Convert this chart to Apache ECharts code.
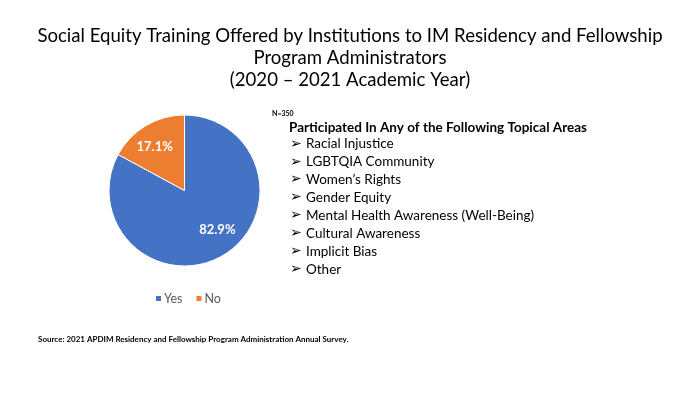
<!DOCTYPE html>
<html>
<head>
<meta charset="utf-8">
<script src="https://cdn.jsdelivr.net/npm/echarts@6/dist/echarts.min.js"></script>
<style>
  html, body { margin: 0; padding: 0; background: #fff; }
  #chart { width: 700px; height: 399px; }
</style>
</head>
<body>
<div id="chart"></div>
<script>
const categories = ['Yes', 'No']
const values = [82.9, 17.1]
const colors = ['#4472C4', '#ED7D31']
const topics = [
  'Racial Injustice',
  'LGBTQIA Community',
  'Women\u2019s Rights',
  'Gender Equity',
  'Mental Health Awareness (Well-Being)',
  'Cultural Awareness',
  'Implicit Bias',
  'Other'
]
// nudges to mimic the "best fit" label spots of the original
const labelOffsets = [[12, 4], [-9, -9]]

const font = 'Lato, "Open Sans", sans-serif'

const chart = echarts.init(document.getElementById('chart'))

const topicText = topics.map((t) => '{a|\u27A2}{t|' + t + '}').join('\n')

chart.setOption({
  animation: false,
  legend: {
    data: categories,
    left: 149,
    top: 287,
    icon: 'rect',
    itemWidth: 7,
    itemHeight: 7,
    itemGap: 12,
    textStyle: { fontFamily: font, fontSize: 12.5, color: '#595959', padding: [0, 0, 0, -3] }
  },
  graphic: [
    {
      type: 'text', x: 350, y: 25,
      style: {
        text: 'Social Equity Training Offered by Institutions to IM Residency and Fellowship\nProgram Administrators\n(2020 \u2013 2021 Academic Year)',
        align: 'center',
        font: '18.6px ' + font,
        lineHeight: 22,
        fill: '#000'
      }
    },
    {
      type: 'text', left: 272, top: 110,
      style: { text: 'N=350', font: 'bold 7px ' + font, fill: '#000' }
    },
    {
      type: 'text', left: 289, top: 121,
      style: { text: 'Participated In Any of the Following Topical Areas', font: 'bold 13.5px ' + font, fill: '#000' }
    },
    {
      type: 'text', left: 290, top: 137,
      style: {
        text: topicText,
        fill: '#000',
        rich: {
          a: { fontFamily: '"DejaVu Sans", sans-serif', fontSize: 14, width: 16, lineHeight: 17.9 },
          t: { fontFamily: font, fontSize: 13.5, lineHeight: 17.9 }
        }
      }
    },
    {
      type: 'text', left: 38, top: 335,
      style: { text: 'Source: 2021 APDIM Residency and Fellowship Program Administration Annual Survey.', font: 'bold 8px ' + font, fill: '#000' }
    }
  ],
  series: [
    {
      type: 'pie',
      center: [184.5, 190.5],
      radius: [0, 75.5],
      startAngle: 90,
      clockwise: true,
      itemStyle: { borderColor: '#fff', borderWidth: 1 },
      label: {
        show: true,
        position: 'inside',
        formatter: (p) => p.value.toFixed(1) + '%',
        color: '#fff',
        fontFamily: font,
        fontWeight: 'bold',
        fontSize: 13
      },
      labelLine: { show: false },
      data: categories.map((c, i) => ({
        name: c,
        value: values[i],
        itemStyle: { color: colors[i] },
        label: { offset: labelOffsets[i] }
      }))
    }
  ]
})
</script>
</body>
</html>
